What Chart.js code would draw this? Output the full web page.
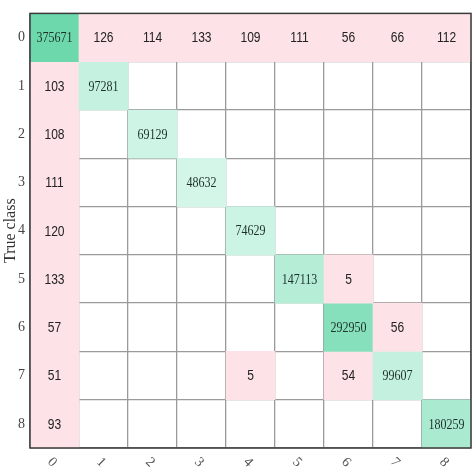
<!DOCTYPE html>
<html><head><meta charset="utf-8">
<script src="https://cdn.jsdelivr.net/npm/chart.js@4/dist/chart.umd.min.js"></script>
<style>html,body{margin:0;padding:0;background:#fff}#wrap{width:474px;height:474px;position:relative}</style>
</head><body><div id="wrap"><canvas id="c"></canvas></div>
<script>
const classes = ['0','1','2','3','4','5','6','7','8'];
const row0 = [375671,126,114,133,109,111,56,66,112];
const row1 = [103,97281,0,0,0,0,0,0,0];
const row2 = [108,0,69129,0,0,0,0,0,0];
const row3 = [111,0,0,48632,0,0,0,0,0];
const row4 = [120,0,0,0,74629,0,0,0,0];
const row5 = [133,0,0,0,0,147113,5,0,0];
const row6 = [57,0,0,0,0,0,292950,56,0];
const row7 = [51,0,0,0,5,0,54,99607,0];
const row8 = [93,0,0,0,0,0,0,0,180259];
const matrix = [row0,row1,row2,row3,row4,row5,row6,row7,row8];
const yTitle = 'True class';

const diag = matrix.map((r,i)=>r[i]);
const dMin = Math.min(...diag), dMax = Math.max(...diag);
function mix(a,b,t){return Math.round(a+(b-a)*t);}
function green(v){
  const t=(v-dMin)/(dMax-dMin);
  const lo=[212,246,233], hi=[108,216,172];
  return `rgb(${mix(lo[0],hi[0],t)},${mix(lo[1],hi[1],t)},${mix(lo[2],hi[2],t)})`;
}
const pink='#fde3e7';

const datasets = matrix.map((row,r)=>({
  label:'row '+r,
  data: row.map(v=> v>0 ? [r-0.5, r+0.5] : null),
  backgroundColor: row.map((v,j)=> j===r ? green(v) : pink),
  borderWidth:0,
  grouped:false,
  barPercentage:1,
  categoryPercentage:1
}));

const labelPlugin = {
  id:'cellLabels',
  afterDatasetsDraw(chart){
    const ctx=chart.ctx;
    chart.data.datasets.forEach((ds,r)=>{
      const meta=chart.getDatasetMeta(r);
      meta.data.forEach((el,j)=>{
        const v=matrix[r][j];
        if(!v) return;
        const p=el.getCenterPoint();
        ctx.save();
        ctx.translate(p.x,p.y+1);
        ctx.scale(0.86,1);
        ctx.textAlign='center'; ctx.textBaseline='middle';
        if(j===r){ctx.font='14px "Liberation Serif"';ctx.fillStyle='#1d3129';}
        else {ctx.font='14px "Liberation Sans"';ctx.fillStyle='#222';}
        ctx.fillText(String(v),0,0);
        ctx.restore();
      });
    });
  },
  afterDraw(chart){
    const a=chart.chartArea, ctx=chart.ctx;
    ctx.save();
    ctx.strokeStyle='#3a3a3a'; ctx.lineWidth=1.5;
    ctx.strokeRect(a.left,a.top,a.right-a.left,a.bottom-a.top);
    ctx.restore();
  }
};

new Chart(document.getElementById('c'),{
  type:'bar',
  data:{labels:classes,datasets},
  plugins:[labelPlugin],
  options:{
    responsive:true, maintainAspectRatio:false, animation:false,
    layout:{padding:{top:7,right:3,left:0,bottom:0}},
    plugins:{legend:{display:false},tooltip:{enabled:false}},
    scales:{
      x:{
        type:'category', offset:true,
        grid:{offset:true,color:'#9a9a9a',lineWidth:1.3,drawTicks:false},
        border:{display:false},
        ticks:{minRotation:-45,maxRotation:-45,autoSkip:false,padding:11,color:'#555',
          font:{family:'"Liberation Serif"',size:14}},
        afterFit(s){s.height=26;}
      },
      y:{
        type:'linear', position:'left', min:-0.5, max:8.5, reverse:true,
        afterBuildTicks(s){s.ticks=classes.map((c,i)=>({value:i-0.5})).concat([{value:8.5}]);},
        grid:{color:'#9a9a9a',lineWidth:1.3,drawTicks:false},
        border:{display:false},
        ticks:{display:false},
        afterFit(s){s.width=0;}
      },
      y2:{
        type:'linear', position:'left', min:-0.5, max:8.5, reverse:true,
        afterBuildTicks(s){s.ticks=classes.map((c,i)=>({value:i}));},
        grid:{display:false,drawTicks:false}, border:{display:false},
        ticks:{color:'#444',padding:5,font:{family:'"Liberation Serif"',size:14},
          callback:(v)=>classes[v]},
        title:{display:true,text:yTitle,color:'#333',padding:{top:1,bottom:0},
          font:{family:'"Liberation Serif"',size:16}},
        afterFit(s){s.width=30;}
      }
    }
  }
});
</script>
</body></html>
